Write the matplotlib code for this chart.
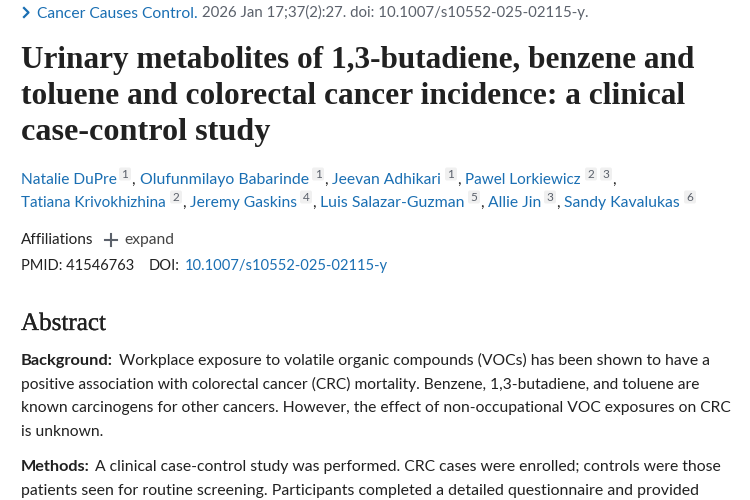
import matplotlib
matplotlib.use("Agg")
import matplotlib.pyplot as plt
import matplotlib.patheffects as pe
from matplotlib.patches import FancyBboxPatch

# page text, line by line
journal = "Cancer Causes Control."
citation = "2026 Jan 17;37(2):27. doi: 10.1007/s10552-025-02115-y."
title_lines = [
    "Urinary metabolites of 1,3-butadiene, benzene and",
    "toluene and colorectal cancer incidence: a clinical",
    "case-control study",
]
authors_row1 = ["Natalie DuPre", "Olufunmilayo Babarinde", "Jeevan Adhikari", "Pawel Lorkiewicz"]
sups_row1 = [["1"], ["1"], ["1"], ["2", "3"]]
authors_row2 = ["Tatiana Krivokhizhina", "Jeremy Gaskins", "Luis Salazar-Guzman", "Allie Jin", "Sandy Kavalukas"]
sups_row2 = [["2"], ["4"], ["5"], ["3"], ["6"]]
pmid = "PMID: 41546763"
doi_label = "DOI:"
doi_link = "10.1007/s10552-025-02115-y"
abstract_head = "Abstract"
background_lines = [
    "Workplace exposure to volatile organic compounds (VOCs) has been shown to have a",
    "positive association with colorectal cancer (CRC) mortality. Benzene, 1,3-butadiene, and toluene are",
    "known carcinogens for other cancers. However, the effect of non-occupational VOC exposures on CRC",
    "is unknown.",
]
methods_lines = [
    "A clinical case-control study was performed. CRC cases were enrolled; controls were those",
    "patients seen for routine screening. Participants completed a detailed questionnaire and provided",
]

BLUE = "#1a6fb3"
DARK = "#212121"
GREY = "#5b616b"
SANS = "Lato"
SERIF = "Liberation Serif"

fig = plt.figure(figsize=(7.5, 5), dpi=100)
ax = fig.add_axes([0, 0, 1, 1])
ax.set_xlim(0, 750)
ax.set_ylim(500, 0)
ax.axis("off")
renderer = fig.canvas.get_renderer()


def put(s, x0, x1, y, color=DARK, family=SANS, size=11.5, weight="normal"):
    # squeeze the font size so the line ends where it does in the page, y is the baseline
    t = ax.text(x0, y, s, color=color, family=family, fontsize=size, weight=weight,
                ha="left", va="baseline")
    if x1 is not None:
        w = t.get_window_extent(renderer).width
        t.set_fontsize(size * (x1 - x0) / w)
    return t


def sup_box(s, x, y):
    ax.add_patch(FancyBboxPatch((x, y - 6.5), 12, 13, boxstyle="round,pad=0,rounding_size=2",
                                fc="#f0f0f0", ec="none"))
    ax.text(x + 6, y + 4, s, color=GREY, family=SANS, fontsize=8.5, ha="center", va="baseline")


def author_row(names, sups, spans, sup_x, y, last_comma):
    for i, (name, (a, b), marks, sx) in enumerate(zip(names, spans, sups, sup_x)):
        put(name, a, b, y, color=BLUE)
        for k, m in enumerate(marks):
            sup_box(m, sx + k * 15, y - 10)
        if i < len(names) - 1 or last_comma:
            ax.text(sx + 12.5 + (len(marks) - 1) * 15, y, ",", color=DARK, family=SANS,
                    fontsize=11, ha="left", va="baseline")


# citation row
ax.plot([24, 28.5, 24], [8, 12.5, 17], color=BLUE, lw=1.6)
put(journal, 37, 198, 17.5, color=BLUE)
put(citation, 202, 590, 17.5, color=GREY)

# title
title_ends = [694, 680, 270]
title_y = [68, 104, 140]
for line, x1, y in zip(title_lines, title_ends, title_y):
    put(line, 21, x1, y, family=SERIF, size=21, weight="bold")

# authors
author_row(authors_row1, sups_row1, [(21, 117), (140, 309), (332, 441), (465, 581)],
           [119, 312, 445, 585], 184, True)
author_row(authors_row2, sups_row2, [(21, 166), (190, 297), (320, 465), (488, 541), (564, 680)],
           [170, 300, 468, 544, 684], 207, False)

# affiliations
put("Affiliations", 21, 94, 244)
ax.plot([105, 117], [240, 240], color=GREY, lw=1.5)
ax.plot([111, 111], [234, 246], color=GREY, lw=1.5)
put("expand", 124, 174, 244, color="#444444")
put(pmid, 21, 134, 270)
put(doi_label, 149, 180, 270)
put(doi_link, 185, 389, 270, color=BLUE)

# abstract
t = put(abstract_head, 21, 106, 330, family=SERIF, size=17)
t.set_path_effects([pe.withStroke(linewidth=0.2, foreground=DARK)])

bg_ends = [713, 698, 731, 103]
bg_y = [365, 389, 412, 436]
put("Background:", 21, 113, bg_y[0], weight="bold")
put(background_lines[0], 119, bg_ends[0], bg_y[0])
for line, x1, y in zip(background_lines[1:], bg_ends[1:], bg_y[1:]):
    put(line, 21, x1, y)

put("Methods:", 21, 90, 471, weight="bold")
put(methods_lines[0], 95, 721, 471)
put(methods_lines[1], 21, 700, 495)

fig.savefig("out.png", dpi=100)
